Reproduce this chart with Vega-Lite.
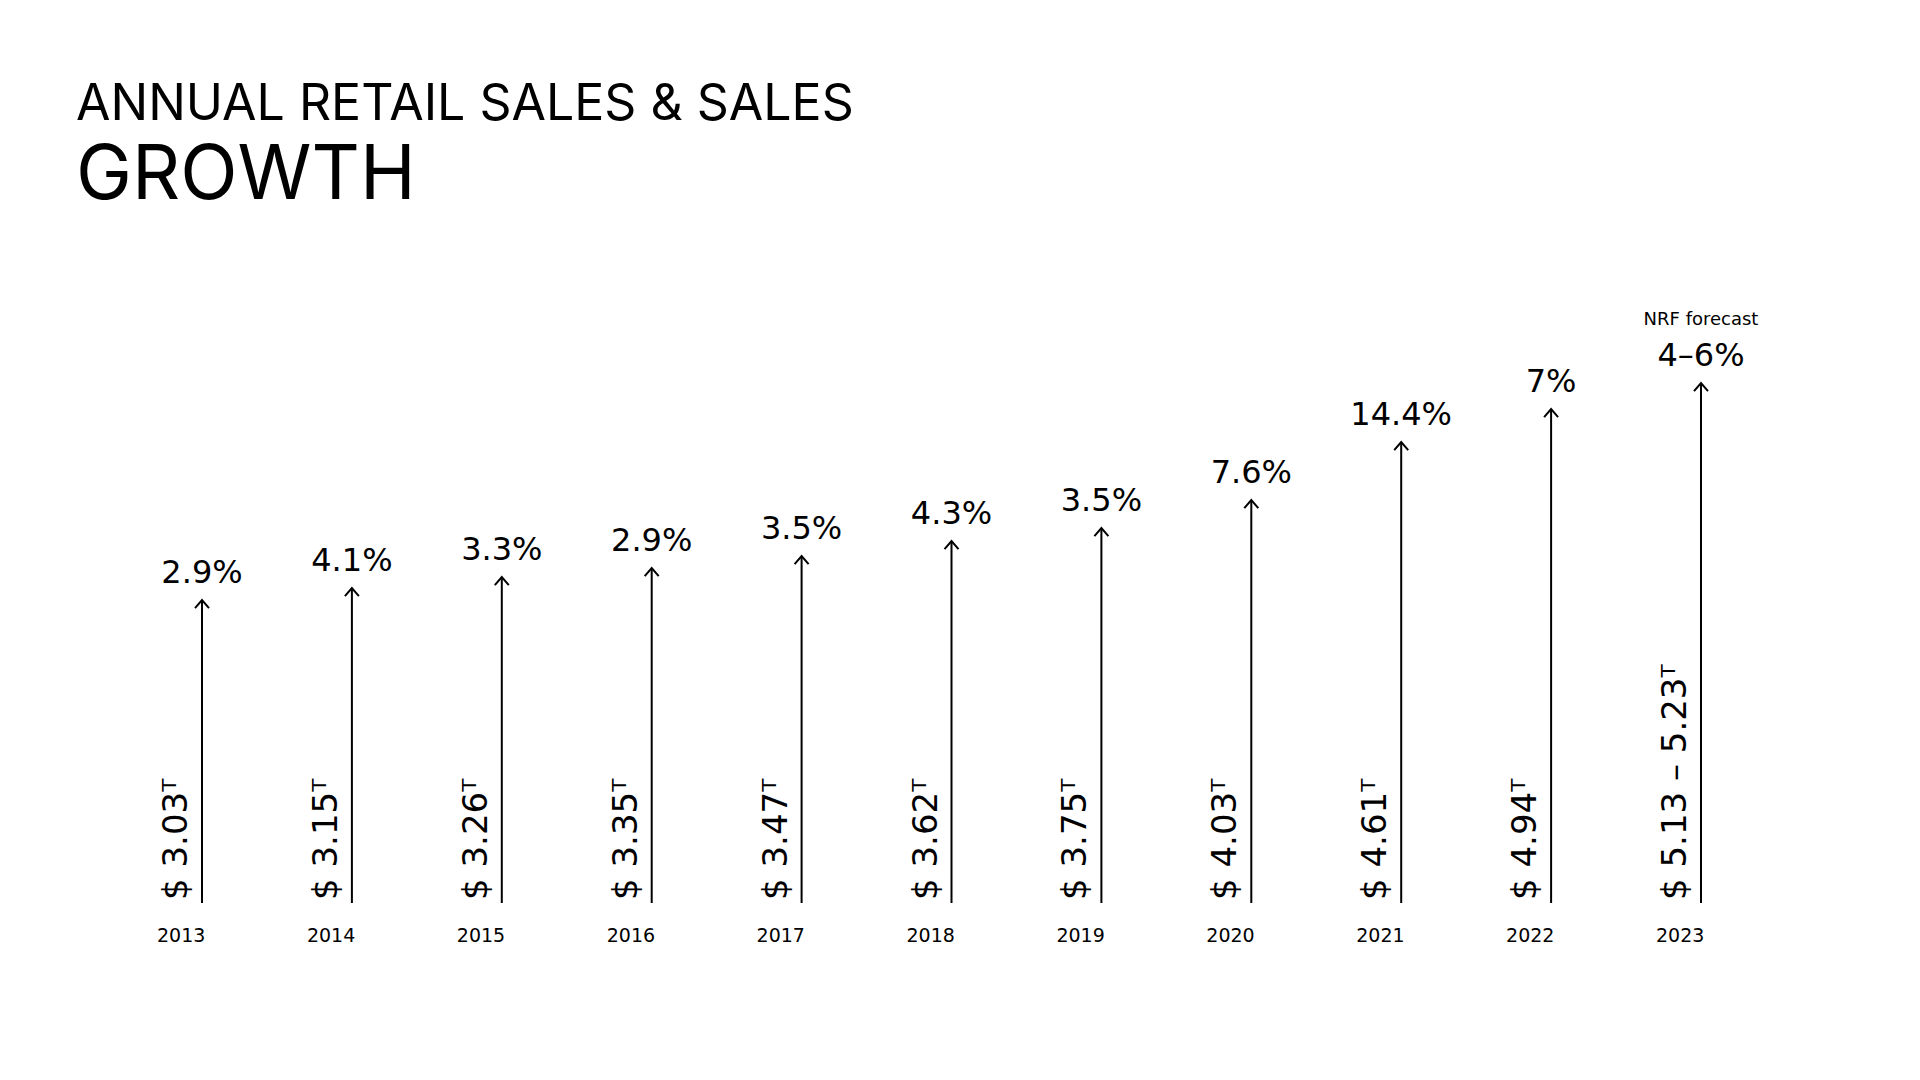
{
  "$schema": "https://vega.github.io/schema/vega-lite/v6.json",
  "width": 1920,
  "height": 850,
  "padding": {"top": 230, "left": 0, "right": 0, "bottom": 0},
  "autosize": {"type": "none"},
  "background": "white",
  "config": {"view": {"stroke": null}, "font": "DejaVu Sans"},
  "title": {
    "text": "ANNUAL RETAIL SALES & SALES",
    "subtitle": "GROWTH",
    "anchor": "start",
    "frame": "group",
    "dx": 76,
    "offset": 16,
    "font": "Inter",
    "fontSize": 50,
    "fontWeight": 400,
    "color": "#000000",
    "subtitleFont": "Inter",
    "subtitleFontSize": 75,
    "subtitleFontWeight": 400,
    "subtitleColor": "#000000",
    "subtitlePadding": 10
  },
  "data": {
    "values": [
      {"year": 2013, "sales": 3.03, "growth": "2.9%", "label": "$ 3.03ᵀ", "note": ""},
      {"year": 2014, "sales": 3.15, "growth": "4.1%", "label": "$ 3.15ᵀ", "note": ""},
      {"year": 2015, "sales": 3.26, "growth": "3.3%", "label": "$ 3.26ᵀ", "note": ""},
      {"year": 2016, "sales": 3.35, "growth": "2.9%", "label": "$ 3.35ᵀ", "note": ""},
      {"year": 2017, "sales": 3.47, "growth": "3.5%", "label": "$ 3.47ᵀ", "note": ""},
      {"year": 2018, "sales": 3.62, "growth": "4.3%", "label": "$ 3.62ᵀ", "note": ""},
      {"year": 2019, "sales": 3.75, "growth": "3.5%", "label": "$ 3.75ᵀ", "note": ""},
      {"year": 2020, "sales": 4.03, "growth": "7.6%", "label": "$ 4.03ᵀ", "note": ""},
      {"year": 2021, "sales": 4.61, "growth": "14.4%", "label": "$ 4.61ᵀ", "note": ""},
      {"year": 2022, "sales": 4.94, "growth": "7%", "label": "$ 4.94ᵀ", "note": ""},
      {"year": 2023, "sales": 5.2, "growth": "4–6%", "label": "$ 5.13 – 5.23ᵀ", "note": "NRF forecast"}
    ]
  },
  "encoding": {
    "x": {"field": "year", "type": "quantitative", "axis": null,
          "scale": {"domain": [2013, 2023], "range": [202, 1701], "zero": false, "nice": false}}
  },
  "layer": [
    {
      "mark": {"type": "rule", "stroke": "#000000", "strokeWidth": 2},
      "encoding": {
        "y": {"field": "sales", "type": "quantitative", "axis": null,
              "scale": {"domain": [0, 6.73], "range": [673, 0], "nice": false, "zero": false}},
        "y2": {"datum": 0}
      }
    },
    {
      "mark": {"type": "point", "shape": "M-1,1.15L0,0L1,1.15", "filled": false, "stroke": "#000000", "strokeWidth": 2, "opacity": 1, "size": 196},
      "encoding": {
        "y": {"field": "sales", "type": "quantitative"}
      }
    },
    {
      "mark": {"type": "text", "align": "center", "baseline": "alphabetic", "dy": -17, "fontSize": 32, "color": "#000000"},
      "encoding": {
        "y": {"field": "sales", "type": "quantitative"},
        "text": {"field": "growth"}
      }
    },
    {
      "transform": [{"filter": "datum.note != ''"}],
      "mark": {"type": "text", "align": "center", "baseline": "alphabetic", "dy": -58, "fontSize": 18, "color": "#000000"},
      "encoding": {
        "y": {"field": "sales", "type": "quantitative"},
        "text": {"field": "note"}
      }
    },
    {
      "mark": {"type": "text", "angle": 270, "align": "left", "baseline": "alphabetic", "dx": 3, "dy": -15, "fontSize": 34, "color": "#000000"},
      "encoding": {
        "y": {"datum": 0},
        "text": {"field": "label"}
      }
    },
    {
      "mark": {"type": "text", "align": "left", "baseline": "alphabetic", "dx": -45, "dy": 39, "fontSize": 19, "color": "#000000"},
      "encoding": {
        "y": {"datum": 0},
        "text": {"field": "year", "type": "nominal"}
      }
    }
  ]
}
